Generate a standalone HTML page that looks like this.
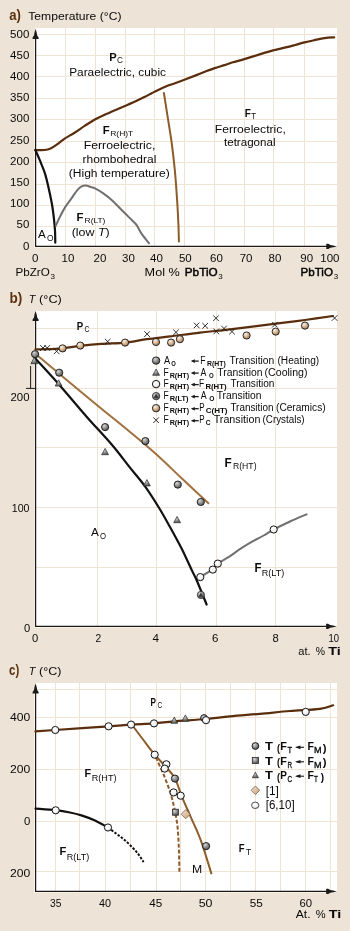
<!DOCTYPE html>
<html><head><meta charset="utf-8"><title>PZT phase diagrams</title><style>
html,body{margin:0;padding:0;background:#ede3d6;width:350px;height:931px;overflow:hidden}
svg{display:block}
text{font-family:"Liberation Sans", sans-serif}
</style></head><body>
<svg width="350" height="931" viewBox="0 0 350 931">
<defs>
<radialGradient id="gg" cx="0.35" cy="0.3" r="0.75"><stop offset="0" stop-color="#d8d8d8"/><stop offset="0.55" stop-color="#8a8a8a"/><stop offset="1" stop-color="#505050"/></radialGradient>
<radialGradient id="tg" cx="0.35" cy="0.3" r="0.75"><stop offset="0" stop-color="#fbf3e8"/><stop offset="0.55" stop-color="#d2b08c"/><stop offset="1" stop-color="#96714c"/></radialGradient>
<radialGradient id="wg" cx="0.35" cy="0.3" r="0.75"><stop offset="0" stop-color="#ffffff"/><stop offset="0.7" stop-color="#f0f0f0"/><stop offset="1" stop-color="#c8c8c8"/></radialGradient>
<linearGradient id="dg" x1="0" y1="0" x2="1" y2="1"><stop offset="0" stop-color="#f6e8d6"/><stop offset="1" stop-color="#c49a70"/></linearGradient>
</defs>
<rect x="35.5" y="28" width="301.5" height="218" fill="#ffffff"/>
<line x1="36" y1="34.5" x2="337" y2="34.5" stroke="#f0e3d3" stroke-width="1"/>
<line x1="36" y1="55.5" x2="337" y2="55.5" stroke="#f0e3d3" stroke-width="1"/>
<line x1="36" y1="76.5" x2="337" y2="76.5" stroke="#f0e3d3" stroke-width="1"/>
<line x1="36" y1="98.5" x2="337" y2="98.5" stroke="#f0e3d3" stroke-width="1"/>
<line x1="36" y1="119.5" x2="337" y2="119.5" stroke="#f0e3d3" stroke-width="1"/>
<line x1="36" y1="141.5" x2="337" y2="141.5" stroke="#f0e3d3" stroke-width="1"/>
<line x1="36" y1="162.5" x2="337" y2="162.5" stroke="#f0e3d3" stroke-width="1"/>
<line x1="36" y1="184.5" x2="337" y2="184.5" stroke="#f0e3d3" stroke-width="1"/>
<line x1="36" y1="205.5" x2="337" y2="205.5" stroke="#f0e3d3" stroke-width="1"/>
<line x1="36" y1="226.5" x2="337" y2="226.5" stroke="#f0e3d3" stroke-width="1"/>
<line x1="65.5" y1="28" x2="65.5" y2="246" stroke="#f0e3d3" stroke-width="1"/>
<line x1="95.5" y1="28" x2="95.5" y2="246" stroke="#f0e3d3" stroke-width="1"/>
<line x1="125.5" y1="28" x2="125.5" y2="246" stroke="#f0e3d3" stroke-width="1"/>
<line x1="154.5" y1="28" x2="154.5" y2="246" stroke="#f0e3d3" stroke-width="1"/>
<line x1="184.5" y1="28" x2="184.5" y2="246" stroke="#f0e3d3" stroke-width="1"/>
<line x1="214.5" y1="28" x2="214.5" y2="246" stroke="#f0e3d3" stroke-width="1"/>
<line x1="244.5" y1="28" x2="244.5" y2="246" stroke="#f0e3d3" stroke-width="1"/>
<line x1="273.5" y1="28" x2="273.5" y2="246" stroke="#f0e3d3" stroke-width="1"/>
<line x1="304.5" y1="28" x2="304.5" y2="246" stroke="#f0e3d3" stroke-width="1"/>
<line x1="34.5" y1="39" x2="34.5" y2="247" stroke="#fbf0e4" stroke-width="1"/>
<line x1="35.6" y1="37" x2="35.6" y2="247" stroke="#1a1a1a" stroke-width="1.25"/>
<path d="M35.6 29.0 L36.7 32.5 L37.2 35.5 L38.6 37.5 L38.6 39.0 L32.6 39.0 L32.6 37.5 L34.0 35.5 L34.5 32.5 Z" fill="#1a1a1a"/>
<line x1="34" y1="247.5" x2="326.8" y2="247.5" stroke="#fbf0e4" stroke-width="1"/>
<line x1="35" y1="246.4" x2="328.8" y2="246.4" stroke="#1a1a1a" stroke-width="1.25"/>
<path d="M336.8 246.4 L333.3 247.3 L330.3 247.8 L328.3 249.0 L326.3 249.0 L326.3 243.8 L328.3 243.8 L330.3 245.0 L333.3 245.5 Z" fill="#1a1a1a"/>
<text x="29.3" y="37.5" font-size="11.5" text-anchor="end" font-weight="normal" fill="#0a0a0a"  >500</text>
<text x="29.3" y="58.72" font-size="11.5" text-anchor="end" font-weight="normal" fill="#0a0a0a"  >450</text>
<text x="29.3" y="79.94" font-size="11.5" text-anchor="end" font-weight="normal" fill="#0a0a0a"  >400</text>
<text x="29.3" y="101.16" font-size="11.5" text-anchor="end" font-weight="normal" fill="#0a0a0a"  >350</text>
<text x="29.3" y="122.38" font-size="11.5" text-anchor="end" font-weight="normal" fill="#0a0a0a"  >300</text>
<text x="29.3" y="143.6" font-size="11.5" text-anchor="end" font-weight="normal" fill="#0a0a0a"  >250</text>
<text x="29.3" y="164.82" font-size="11.5" text-anchor="end" font-weight="normal" fill="#0a0a0a"  >200</text>
<text x="29.3" y="186.04" font-size="11.5" text-anchor="end" font-weight="normal" fill="#0a0a0a"  >150</text>
<text x="29.3" y="207.26" font-size="11.5" text-anchor="end" font-weight="normal" fill="#0a0a0a"  >100</text>
<text x="29.3" y="228.48" font-size="11.5" text-anchor="end" font-weight="normal" fill="#0a0a0a"  >50</text>
<text x="29.3" y="249.7" font-size="11.5" text-anchor="end" font-weight="normal" fill="#0a0a0a"  >0</text>
<text x="35.1" y="261.7" font-size="11.5" text-anchor="middle" font-weight="normal" fill="#0a0a0a"  >0</text>
<text x="67.9" y="261.7" font-size="11.5" text-anchor="middle" font-weight="normal" fill="#0a0a0a"  >10</text>
<text x="100" y="261.7" font-size="11.5" text-anchor="middle" font-weight="normal" fill="#0a0a0a"  >20</text>
<text x="128.4" y="261.7" font-size="11.5" text-anchor="middle" font-weight="normal" fill="#0a0a0a"  >30</text>
<text x="156.4" y="261.7" font-size="11.5" text-anchor="middle" font-weight="normal" fill="#0a0a0a"  >40</text>
<text x="185.3" y="261.7" font-size="11.5" text-anchor="middle" font-weight="normal" fill="#0a0a0a"  >50</text>
<text x="216.4" y="261.7" font-size="11.5" text-anchor="middle" font-weight="normal" fill="#0a0a0a"  >60</text>
<text x="246.1" y="261.7" font-size="11.5" text-anchor="middle" font-weight="normal" fill="#0a0a0a"  >70</text>
<text x="275" y="261.7" font-size="11.5" text-anchor="middle" font-weight="normal" fill="#0a0a0a"  >80</text>
<text x="306.7" y="261.7" font-size="11.5" text-anchor="middle" font-weight="normal" fill="#0a0a0a"  >90</text>
<text x="329.9" y="261.7" font-size="11.5" text-anchor="middle" font-weight="normal" fill="#0a0a0a"  >100</text>
<text x="15.5" y="275.6" font-size="11.5" text-anchor="start" font-weight="normal" fill="#0a0a0a"   textLength="34.3" lengthAdjust="spacingAndGlyphs">PbZrO</text>
<text x="50.5" y="278.9" font-size="8" text-anchor="start" font-weight="normal" fill="#0a0a0a"  >3</text>
<text x="144.6" y="275.6" font-size="11.5" text-anchor="start" font-weight="normal" fill="#0a0a0a"   textLength="35.18" lengthAdjust="spacingAndGlyphs">Mol %</text>
<text x="184.8" y="275.6" font-size="11.5" text-anchor="start" font-weight="normal" fill="#0a0a0a"  stroke="#000" stroke-width="0.45" textLength="32.82" lengthAdjust="spacingAndGlyphs">PbTiO</text>
<text x="218.3" y="278.9" font-size="8" text-anchor="start" font-weight="normal" fill="#0a0a0a"  >3</text>
<text x="300.5" y="275.6" font-size="11.5" text-anchor="start" font-weight="normal" fill="#0a0a0a"  stroke="#000" stroke-width="0.45" textLength="32.42" lengthAdjust="spacingAndGlyphs">PbTiO</text>
<text x="333.8" y="278.9" font-size="8" text-anchor="start" font-weight="normal" fill="#0a0a0a"  >3</text>
<text x="9.3" y="20.3" font-size="14.5" text-anchor="start" font-weight="bold" fill="#5c3210"   textLength="11.69" lengthAdjust="spacingAndGlyphs">a)</text>
<text x="28.2" y="20" font-size="11.8" text-anchor="start" font-weight="normal" fill="#0a0a0a"   textLength="93.3" lengthAdjust="spacingAndGlyphs">Temperature (°C)</text>
<path d="M35.20 150.00 C36.77 150.00 42.03 150.27 44.60 150.00 C47.17 149.73 48.60 149.28 50.60 148.40 C52.60 147.52 54.32 146.28 56.60 144.70 C58.88 143.12 61.30 140.90 64.30 138.90 C67.30 136.90 71.15 134.90 74.60 132.70 C78.05 130.50 81.55 127.93 85.00 125.70 C88.45 123.47 91.87 121.20 95.30 119.30 C98.73 117.40 101.25 116.28 105.60 114.30 C109.95 112.32 116.85 109.35 121.40 107.40 C125.95 105.45 129.08 104.32 132.90 102.60 C136.72 100.88 141.10 98.70 144.30 97.10 C147.50 95.50 149.60 94.28 152.10 93.00 C154.60 91.72 156.92 90.52 159.30 89.40 C161.68 88.28 164.02 87.25 166.40 86.30 C168.78 85.35 170.50 84.83 173.60 83.70 C176.70 82.57 181.20 80.93 185.00 79.50 C188.80 78.07 192.58 76.58 196.40 75.10 C200.22 73.62 204.85 71.77 207.90 70.60 C210.95 69.43 211.95 69.02 214.70 68.10 C217.45 67.18 221.37 66.07 224.40 65.10 C227.43 64.13 229.58 63.30 232.90 62.30 C236.22 61.30 239.07 60.67 244.30 59.10 C249.53 57.53 259.42 54.37 264.30 52.90 C269.18 51.43 270.03 51.22 273.60 50.30 C277.17 49.38 282.13 48.28 285.70 47.40 C289.27 46.52 291.85 45.83 295.00 45.00 C298.15 44.17 301.38 43.20 304.60 42.40 C307.82 41.60 310.97 40.92 314.30 40.20 C317.63 39.48 321.28 38.58 324.60 38.10 C327.92 37.62 332.60 37.43 334.20 37.30" fill="none" stroke="#5a2e0c" stroke-width="2.2" stroke-linejoin="round" stroke-linecap="round" />
<path d="M163.90 93.00 C164.58 97.37 166.73 111.12 168.00 119.20 C169.27 127.28 170.35 132.90 171.50 141.50 C172.65 150.10 173.97 161.05 174.90 170.80 C175.83 180.55 176.52 191.13 177.10 200.00 C177.68 208.87 178.10 217.08 178.40 224.00 C178.70 230.92 178.82 238.58 178.90 241.50" fill="none" stroke="#8e5c2a" stroke-width="2" stroke-linejoin="round" stroke-linecap="round" />
<path d="M35.40 150.00 C36.17 151.78 38.40 156.77 40.00 160.70 C41.60 164.63 43.57 169.07 45.00 173.60 C46.43 178.13 47.42 182.67 48.60 187.90 C49.78 193.13 51.20 199.77 52.10 205.00 C53.00 210.23 53.52 215.02 54.00 219.30 C54.48 223.58 54.78 226.82 55.00 230.70 C55.22 234.58 55.25 240.62 55.30 242.60" fill="none" stroke="#111" stroke-width="2.2" stroke-linejoin="round" stroke-linecap="round" />
<path d="M55.90 225.50 C56.53 224.13 58.20 220.28 59.70 217.30 C61.20 214.32 62.97 210.72 64.90 207.60 C66.83 204.48 69.17 201.60 71.30 198.60 C73.43 195.60 75.98 191.63 77.70 189.60 C79.42 187.57 80.20 187.07 81.60 186.40 C83.00 185.73 84.60 185.50 86.10 185.60 C87.60 185.70 89.12 186.53 90.60 187.00 C92.08 187.47 92.83 187.30 95.00 188.40 C97.17 189.50 100.73 191.60 103.60 193.60 C106.47 195.60 109.35 197.83 112.20 200.40 C115.05 202.97 117.85 206.13 120.70 209.00 C123.55 211.87 126.72 215.02 129.30 217.60 C131.88 220.18 134.63 222.65 136.20 224.50 C137.77 226.35 137.70 227.00 138.70 228.70 C139.70 230.40 140.48 232.27 142.20 234.70 C143.92 237.13 147.87 241.87 149.00 243.30" fill="none" stroke="#707070" stroke-width="2" stroke-linejoin="round" stroke-linecap="round" />
<text x="109.2" y="60.7" font-size="11.5" text-anchor="start" font-weight="bold" fill="#0a0a0a"   textLength="7.42" lengthAdjust="spacingAndGlyphs">P</text>
<text x="117.1" y="62.7" font-size="8.8" text-anchor="start" font-weight="normal" fill="#0a0a0a"   textLength="5.92" lengthAdjust="spacingAndGlyphs">C</text>
<text x="69.2" y="75.5" font-size="11.7" text-anchor="start" font-weight="normal" fill="#0a0a0a"   textLength="96.8" lengthAdjust="spacingAndGlyphs">Paraelectric, cubic</text>
<text x="102.7" y="134" font-size="11.5" text-anchor="start" font-weight="bold" fill="#0a0a0a"   textLength="6.91" lengthAdjust="spacingAndGlyphs">F</text>
<text x="110.2" y="135.7" font-size="7.8" text-anchor="start" font-weight="normal" fill="#0a0a0a"   textLength="23.11" lengthAdjust="spacingAndGlyphs">R(H)T</text>
<text x="83.7" y="148.9" font-size="11.7" text-anchor="start" font-weight="normal" fill="#0a0a0a"   textLength="71.7" lengthAdjust="spacingAndGlyphs">Ferroelectric,</text>
<text x="82.5" y="162.6" font-size="11.7" text-anchor="start" font-weight="normal" fill="#0a0a0a"   textLength="73.81" lengthAdjust="spacingAndGlyphs">rhombohedral</text>
<text x="68.8" y="177.4" font-size="11.7" text-anchor="start" font-weight="normal" fill="#0a0a0a"   textLength="100.93" lengthAdjust="spacingAndGlyphs">(High temperature)</text>
<text x="244.8" y="116.6" font-size="11.5" text-anchor="start" font-weight="bold" fill="#0a0a0a"   textLength="6.11" lengthAdjust="spacingAndGlyphs">F</text>
<text x="251.2" y="119.3" font-size="8.8" text-anchor="start" font-weight="normal" fill="#0a0a0a"   textLength="4.81" lengthAdjust="spacingAndGlyphs">T</text>
<text x="214.8" y="132.7" font-size="11.7" text-anchor="start" font-weight="normal" fill="#0a0a0a"   textLength="71.0" lengthAdjust="spacingAndGlyphs">Ferroelectric,</text>
<text x="224.0" y="146.4" font-size="11.7" text-anchor="start" font-weight="normal" fill="#0a0a0a"   textLength="51.48" lengthAdjust="spacingAndGlyphs">tetragonal</text>
<text x="76.5" y="220.6" font-size="11.5" text-anchor="start" font-weight="bold" fill="#0a0a0a"   textLength="6.91" lengthAdjust="spacingAndGlyphs">F</text>
<text x="84.6" y="223.2" font-size="7.8" text-anchor="start" font-weight="normal" fill="#0a0a0a"   textLength="20.81" lengthAdjust="spacingAndGlyphs">R(LT)</text>
<text x="71.7" y="236.3" font-size="11.7" text-anchor="start" font-weight="normal" fill="#0a0a0a"   textLength="37.93" lengthAdjust="spacingAndGlyphs">(low <tspan font-style="italic">T</tspan>)</text>
<text x="37.9" y="237.9" font-size="11.5" text-anchor="start" font-weight="normal" fill="#0a0a0a"   textLength="7.77" lengthAdjust="spacingAndGlyphs">A</text>
<text x="46.9" y="240.7" font-size="8.5" text-anchor="start" font-weight="normal" fill="#0a0a0a"   textLength="6.48" lengthAdjust="spacingAndGlyphs">O</text>
<rect x="35.5" y="311" width="301.5" height="315" fill="#ffffff"/>
<line x1="36" y1="328.5" x2="337" y2="328.5" stroke="#f0e3d3" stroke-width="1"/>
<line x1="36" y1="388.5" x2="337" y2="388.5" stroke="#f0e3d3" stroke-width="1"/>
<line x1="36" y1="447.5" x2="337" y2="447.5" stroke="#f0e3d3" stroke-width="1"/>
<line x1="36" y1="507.5" x2="337" y2="507.5" stroke="#f0e3d3" stroke-width="1"/>
<line x1="36" y1="567.5" x2="337" y2="567.5" stroke="#f0e3d3" stroke-width="1"/>
<line x1="97.5" y1="311" x2="97.5" y2="626" stroke="#f0e3d3" stroke-width="1"/>
<line x1="156.5" y1="311" x2="156.5" y2="626" stroke="#f0e3d3" stroke-width="1"/>
<line x1="216.5" y1="311" x2="216.5" y2="626" stroke="#f0e3d3" stroke-width="1"/>
<line x1="275.5" y1="311" x2="275.5" y2="626" stroke="#f0e3d3" stroke-width="1"/>
<line x1="34.5" y1="321" x2="34.5" y2="627" stroke="#fbf0e4" stroke-width="1"/>
<line x1="35.6" y1="319" x2="35.6" y2="627" stroke="#1a1a1a" stroke-width="1.25"/>
<path d="M35.6 311.0 L36.7 314.5 L37.2 317.5 L38.6 319.5 L38.6 321.0 L32.6 321.0 L32.6 319.5 L34.0 317.5 L34.5 314.5 Z" fill="#1a1a1a"/>
<line x1="34" y1="627.5" x2="326.6" y2="627.5" stroke="#fbf0e4" stroke-width="1"/>
<line x1="35" y1="626.4" x2="328.6" y2="626.4" stroke="#1a1a1a" stroke-width="1.25"/>
<path d="M336.6 626.4 L333.1 627.3 L330.1 627.8 L328.1 629.0 L326.1 629.0 L326.1 623.8 L328.1 623.8 L330.1 625.0 L333.1 625.5 Z" fill="#1a1a1a"/>
<path d="M30.6 366 L30.6 388.4 M26 388.4 L35 388.4" stroke="#1a1a1a" stroke-width="1" fill="none"/>
<text x="10.5" y="400.8" font-size="11.5" text-anchor="start" font-weight="normal" fill="#0a0a0a"   textLength="18.98" lengthAdjust="spacingAndGlyphs">200</text>
<text x="11.8" y="511.5" font-size="11.5" text-anchor="start" font-weight="normal" fill="#0a0a0a"   textLength="17.68" lengthAdjust="spacingAndGlyphs">100</text>
<text x="24.0" y="631.5" font-size="11.5" text-anchor="start" font-weight="normal" fill="#0a0a0a"   textLength="6.21" lengthAdjust="spacingAndGlyphs">0</text>
<text x="32.0" y="641.8" font-size="11.5" text-anchor="start" font-weight="normal" fill="#0a0a0a"   textLength="6.21" lengthAdjust="spacingAndGlyphs">0</text>
<text x="95.4" y="641.8" font-size="11.5" text-anchor="start" font-weight="normal" fill="#0a0a0a"   textLength="5.71" lengthAdjust="spacingAndGlyphs">2</text>
<text x="152.5" y="641.8" font-size="11.5" text-anchor="start" font-weight="normal" fill="#0a0a0a"   textLength="6.51" lengthAdjust="spacingAndGlyphs">4</text>
<text x="211.9" y="641.8" font-size="11.5" text-anchor="start" font-weight="normal" fill="#0a0a0a"   textLength="6.41" lengthAdjust="spacingAndGlyphs">6</text>
<text x="272.4" y="641.8" font-size="11.5" text-anchor="start" font-weight="normal" fill="#0a0a0a"   textLength="6.21" lengthAdjust="spacingAndGlyphs">8</text>
<text x="328.5" y="641.8" font-size="11.5" text-anchor="start" font-weight="normal" fill="#0a0a0a"   textLength="10.52" lengthAdjust="spacingAndGlyphs">10</text>
<text x="298.3" y="654.8" font-size="11.5" text-anchor="start" font-weight="normal" fill="#0a0a0a"   textLength="12.32" lengthAdjust="spacingAndGlyphs">at.</text>
<text x="315.8" y="654.8" font-size="11.5" text-anchor="start" font-weight="normal" fill="#0a0a0a"   textLength="9.29" lengthAdjust="spacingAndGlyphs">%</text>
<text x="328.3" y="654.8" font-size="11.8" text-anchor="start" font-weight="bold" fill="#0a0a0a"   textLength="12.51" lengthAdjust="spacingAndGlyphs">Ti</text>
<text x="9.6" y="303.1" font-size="14.5" text-anchor="start" font-weight="bold" fill="#5c3210"   textLength="12.79" lengthAdjust="spacingAndGlyphs">b)</text>
<text x="28.8" y="303.1" font-size="11.3" text-anchor="start" font-weight="normal" fill="#0a0a0a" font-style="italic"  textLength="6.66" lengthAdjust="spacingAndGlyphs">T</text>
<text x="39.1" y="303.1" font-size="11.3" text-anchor="start" font-weight="normal" fill="#0a0a0a"   textLength="22.68" lengthAdjust="spacingAndGlyphs">(°C)</text>
<path d="M35.50 349.40 C39.35 349.27 51.18 349.18 58.60 348.60 C66.02 348.02 72.87 346.68 80.00 345.90 C87.13 345.12 93.78 344.45 101.40 343.90 C109.02 343.35 118.10 343.38 125.70 342.60 C133.30 341.82 139.62 340.23 147.00 339.20 C154.38 338.17 161.17 337.50 170.00 336.40 C178.83 335.30 190.00 333.77 200.00 332.60 C210.00 331.43 216.67 330.97 230.00 329.40 C243.33 327.83 267.50 324.77 280.00 323.20 C292.50 321.63 296.17 321.20 305.00 320.00 C313.83 318.80 328.33 316.67 333.00 316.00" fill="none" stroke="#5a2e0c" stroke-width="2.2" stroke-linejoin="round" stroke-linecap="round" />
<path d="M36.00 354.20 C45.23 361.92 75.73 387.53 91.40 400.50 C107.07 413.47 119.28 423.12 130.00 432.00 C140.72 440.88 147.13 446.13 155.70 453.80 C164.27 461.47 172.62 469.75 181.40 478.00 C190.18 486.25 203.90 499.08 208.40 503.30" fill="none" stroke="#a0703e" stroke-width="2" stroke-linejoin="round" stroke-linecap="round" />
<path d="M35.80 359.00 C39.95 363.57 52.27 376.83 60.70 386.40 C69.13 395.97 77.83 406.63 86.40 416.40 C94.97 426.17 104.83 436.47 112.10 445.00 C119.37 453.53 124.45 460.63 130.00 467.60 C135.55 474.57 140.47 479.95 145.40 486.80 C150.33 493.65 155.50 502.00 159.60 508.70 C163.70 515.40 167.08 521.78 170.00 527.00 C172.92 532.22 175.00 536.08 177.10 540.00 C179.20 543.92 180.12 545.40 182.60 550.50 C185.08 555.60 189.57 565.43 192.00 570.60 C194.43 575.77 194.77 575.85 197.20 581.50 C199.63 587.15 205.03 600.67 206.60 604.50" fill="none" stroke="#111" stroke-width="2.2" stroke-linejoin="round" stroke-linecap="round" />
<path d="M200.00 577.10 C202.13 575.77 209.82 571.38 212.80 569.10 C215.78 566.82 215.15 565.48 217.90 563.40 C220.65 561.32 225.50 559.07 229.30 556.60 C233.10 554.13 236.90 551.08 240.70 548.60 C244.50 546.12 248.28 543.88 252.10 541.70 C255.92 539.52 260.00 537.53 263.60 535.50 C267.20 533.47 269.30 531.83 273.70 529.50 C278.10 527.17 284.52 524.03 290.00 521.50 C295.48 518.97 303.83 515.50 306.60 514.30" fill="none" stroke="#707070" stroke-width="2" stroke-linejoin="round" stroke-linecap="round" />
<path d="M40.2 345.2 L45.8 350.8 M40.2 350.8 L45.8 345.2" stroke="#1a1a1a" stroke-width="0.9"/>
<path d="M44.400000000000006 345.2 L50.0 350.8 M44.400000000000006 350.8 L50.0 345.2" stroke="#1a1a1a" stroke-width="0.9"/>
<path d="M53.800000000000004 348.5 L59.4 354.1 M53.800000000000004 354.1 L59.4 348.5" stroke="#1a1a1a" stroke-width="0.9"/>
<path d="M104.9 338.8 L110.5 344.40000000000003 M104.9 344.40000000000003 L110.5 338.8" stroke="#1a1a1a" stroke-width="0.9"/>
<path d="M144.29999999999998 331.3 L149.9 336.90000000000003 M144.29999999999998 336.90000000000003 L149.9 331.3" stroke="#1a1a1a" stroke-width="0.9"/>
<path d="M173.2 329.5 L178.8 335.1 M173.2 335.1 L178.8 329.5" stroke="#1a1a1a" stroke-width="0.9"/>
<path d="M193.79999999999998 322.59999999999997 L199.4 328.2 M193.79999999999998 328.2 L199.4 322.59999999999997" stroke="#1a1a1a" stroke-width="0.9"/>
<path d="M202.39999999999998 323.0 L208.0 328.6 M202.39999999999998 328.6 L208.0 323.0" stroke="#1a1a1a" stroke-width="0.9"/>
<path d="M213.2 315.4 L218.8 321.0 M213.2 321.0 L218.8 315.4" stroke="#1a1a1a" stroke-width="0.9"/>
<path d="M213.5 328.59999999999997 L219.10000000000002 334.2 M213.5 334.2 L219.10000000000002 328.59999999999997" stroke="#1a1a1a" stroke-width="0.9"/>
<path d="M221.2 325.7 L226.8 331.3 M221.2 331.3 L226.8 325.7" stroke="#1a1a1a" stroke-width="0.9"/>
<path d="M229.2 328.8 L234.8 334.40000000000003 M229.2 334.40000000000003 L234.8 328.8" stroke="#1a1a1a" stroke-width="0.9"/>
<path d="M272.09999999999997 321.9 L277.7 327.5 M272.09999999999997 327.5 L277.7 321.9" stroke="#1a1a1a" stroke-width="0.9"/>
<path d="M331.8 315.2 L337.40000000000003 320.8 M331.8 320.8 L337.40000000000003 315.2" stroke="#1a1a1a" stroke-width="0.9"/>
<circle cx="62.6" cy="348.4" r="3.6" fill="url(#tg)" stroke="#1a1a1a" stroke-width="0.9"/>
<circle cx="80.3" cy="345.6" r="3.6" fill="url(#tg)" stroke="#1a1a1a" stroke-width="0.9"/>
<circle cx="125.1" cy="342.6" r="3.6" fill="url(#tg)" stroke="#1a1a1a" stroke-width="0.9"/>
<circle cx="156" cy="342" r="3.6" fill="url(#tg)" stroke="#1a1a1a" stroke-width="0.9"/>
<circle cx="171.1" cy="342.6" r="3.6" fill="url(#tg)" stroke="#1a1a1a" stroke-width="0.9"/>
<circle cx="179.9" cy="339.2" r="3.6" fill="url(#tg)" stroke="#1a1a1a" stroke-width="0.9"/>
<circle cx="246.6" cy="335.5" r="3.6" fill="url(#tg)" stroke="#1a1a1a" stroke-width="0.9"/>
<circle cx="275.7" cy="331.6" r="3.6" fill="url(#tg)" stroke="#1a1a1a" stroke-width="0.9"/>
<circle cx="305" cy="325.6" r="3.6" fill="url(#tg)" stroke="#1a1a1a" stroke-width="0.9"/>
<path d="M34.3 357.4 L37.72 363.7 L30.879999999999995 363.7 Z" fill="url(#gg)" stroke="#2a2a2a" stroke-width="0.7"/>
<circle cx="35.1" cy="354.2" r="3.6" fill="url(#gg)" stroke="#151515" stroke-width="0.9"/>
<circle cx="59.2" cy="372.7" r="3.6" fill="url(#gg)" stroke="#151515" stroke-width="0.9"/>
<path d="M58.6 379.79999999999995 L62.02 386.09999999999997 L55.18 386.09999999999997 Z" fill="url(#gg)" stroke="#2a2a2a" stroke-width="0.7"/>
<circle cx="105.1" cy="427.1" r="3.6" fill="url(#gg)" stroke="#151515" stroke-width="0.9"/>
<circle cx="145.4" cy="441.1" r="3.6" fill="url(#gg)" stroke="#151515" stroke-width="0.9"/>
<path d="M105.1 448.4 L108.52 454.7 L101.67999999999999 454.7 Z" fill="url(#gg)" stroke="#2a2a2a" stroke-width="0.7"/>
<path d="M146.9 479.59999999999997 L150.32 485.9 L143.48000000000002 485.9 Z" fill="url(#gg)" stroke="#2a2a2a" stroke-width="0.7"/>
<circle cx="177.8" cy="484.6" r="3.6" fill="url(#gg)" stroke="#151515" stroke-width="0.9"/>
<circle cx="200.8" cy="502" r="3.6" fill="url(#gg)" stroke="#151515" stroke-width="0.9"/>
<path d="M177.1 516.4 L180.51999999999998 522.7 L173.68 522.7 Z" fill="url(#gg)" stroke="#2a2a2a" stroke-width="0.7"/>
<circle cx="200.9" cy="594.9" r="3.6" fill="url(#gg)" stroke="#2a2a2a" stroke-width="0.8"/>
<path d="M200.9 592.38 L203.42000000000002 596.664 L198.38 596.664 Z" fill="#3a3a3a"/>
<circle cx="200.3" cy="577.1" r="3.6" fill="url(#wg)" stroke="#151515" stroke-width="1"/>
<circle cx="212.8" cy="569.6" r="3.6" fill="url(#wg)" stroke="#151515" stroke-width="1"/>
<circle cx="217.8" cy="563.6" r="3.6" fill="url(#wg)" stroke="#151515" stroke-width="1"/>
<circle cx="273.7" cy="529.5" r="3.6" fill="url(#wg)" stroke="#151515" stroke-width="1"/>
<text x="76.7" y="329.6" font-size="11.5" text-anchor="start" font-weight="bold" fill="#0a0a0a"   textLength="6.42" lengthAdjust="spacingAndGlyphs">P</text>
<text x="84.4" y="331.7" font-size="8.8" text-anchor="start" font-weight="normal" fill="#0a0a0a"   textLength="5.02" lengthAdjust="spacingAndGlyphs">C</text>
<text x="224.4" y="467" font-size="12.3" text-anchor="start" font-weight="bold" fill="#0a0a0a"   textLength="7.21" lengthAdjust="spacingAndGlyphs">F</text>
<text x="233.0" y="469.4" font-size="8.3" text-anchor="start" font-weight="normal" fill="#0a0a0a"   textLength="23.51" lengthAdjust="spacingAndGlyphs">R(HT)</text>
<text x="90.9" y="536.4" font-size="11.5" text-anchor="start" font-weight="normal" fill="#0a0a0a"   textLength="7.86" lengthAdjust="spacingAndGlyphs">A</text>
<text x="100.1" y="539.3" font-size="8.3" text-anchor="start" font-weight="normal" fill="#0a0a0a"   textLength="6.08" lengthAdjust="spacingAndGlyphs">O</text>
<text x="254.6" y="572.3" font-size="12.3" text-anchor="start" font-weight="bold" fill="#0a0a0a"   textLength="7.01" lengthAdjust="spacingAndGlyphs">F</text>
<text x="261.8" y="576" font-size="8.3" text-anchor="start" font-weight="normal" fill="#0a0a0a"   textLength="22.51" lengthAdjust="spacingAndGlyphs">R(LT)</text>
<circle cx="156.1" cy="360.6" r="3.7" fill="url(#gg)" stroke="#151515" stroke-width="0.9"/>
<text x="164.0" y="363.6" font-size="10" text-anchor="start" font-weight="normal" fill="#0a0a0a"   textLength="6.07" lengthAdjust="spacingAndGlyphs">A</text>
<text x="171.2" y="365.70000000000005" font-size="6.8" text-anchor="start" font-weight="bold" fill="#0a0a0a"   textLength="4.59" lengthAdjust="spacingAndGlyphs">O</text>
<path d="M192.5 361.1 L198.7 361.1" stroke="#1a1a1a" stroke-width="1.3"/><path d="M190.8 361.1 L194.8 359.3 L194.8 362.9 Z" fill="#1a1a1a"/>
<text x="200.2" y="363.6" font-size="10" text-anchor="start" font-weight="normal" fill="#0a0a0a"   textLength="5.21" lengthAdjust="spacingAndGlyphs">F</text>
<text x="207.1" y="365.70000000000005" font-size="6.8" text-anchor="start" font-weight="bold" fill="#0a0a0a"   textLength="18.61" lengthAdjust="spacingAndGlyphs">R(HT)</text>
<text x="229.4" y="363.6" font-size="10" text-anchor="start" font-weight="normal" fill="#0a0a0a"   textLength="44.89" lengthAdjust="spacingAndGlyphs">Transition</text>
<text x="277.5" y="363.6" font-size="10" text-anchor="start" font-weight="normal" fill="#0a0a0a"   textLength="41.68" lengthAdjust="spacingAndGlyphs">(Heating)</text>
<path d="M156.1 369.0 L159.51999999999998 375.3 L152.68 375.3 Z" fill="url(#gg)" stroke="#2a2a2a" stroke-width="0.7"/>
<text x="163.4" y="375.6" font-size="10" text-anchor="start" font-weight="normal" fill="#0a0a0a"   textLength="5.21" lengthAdjust="spacingAndGlyphs">F</text>
<text x="169.7" y="377.70000000000005" font-size="6.8" text-anchor="start" font-weight="bold" fill="#0a0a0a"   textLength="19.41" lengthAdjust="spacingAndGlyphs">R(HT)</text>
<path d="M192.5 373.1 L198.7 373.1" stroke="#1a1a1a" stroke-width="1.3"/><path d="M190.8 373.1 L194.8 371.3 L194.8 374.9 Z" fill="#1a1a1a"/>
<text x="200.6" y="375.6" font-size="10" text-anchor="start" font-weight="normal" fill="#0a0a0a"   textLength="5.87" lengthAdjust="spacingAndGlyphs">A</text>
<text x="208.9" y="377.70000000000005" font-size="6.8" text-anchor="start" font-weight="bold" fill="#0a0a0a"   textLength="4.69" lengthAdjust="spacingAndGlyphs">O</text>
<text x="217.3" y="375.6" font-size="10" text-anchor="start" font-weight="normal" fill="#0a0a0a"   textLength="45.19" lengthAdjust="spacingAndGlyphs">Transition</text>
<text x="264.6" y="375.6" font-size="10" text-anchor="start" font-weight="normal" fill="#0a0a0a"   textLength="42.92" lengthAdjust="spacingAndGlyphs">(Cooling)</text>
<circle cx="156.1" cy="384.1" r="3.7" fill="url(#wg)" stroke="#151515" stroke-width="1"/>
<text x="163.4" y="387.1" font-size="10" text-anchor="start" font-weight="normal" fill="#0a0a0a"   textLength="5.21" lengthAdjust="spacingAndGlyphs">F</text>
<text x="169.7" y="389.20000000000005" font-size="6.8" text-anchor="start" font-weight="bold" fill="#0a0a0a"   textLength="19.41" lengthAdjust="spacingAndGlyphs">R(HT)</text>
<path d="M192.5 384.6 L198.7 384.6" stroke="#1a1a1a" stroke-width="1.3"/><path d="M190.8 384.6 L194.8 382.8 L194.8 386.4 Z" fill="#1a1a1a"/>
<text x="198.9" y="387.1" font-size="10" text-anchor="start" font-weight="normal" fill="#0a0a0a"   textLength="5.21" lengthAdjust="spacingAndGlyphs">F</text>
<text x="205.4" y="389.20000000000005" font-size="6.8" text-anchor="start" font-weight="bold" fill="#0a0a0a"   textLength="21.11" lengthAdjust="spacingAndGlyphs">R(HT)</text>
<text x="230.4" y="387.1" font-size="10" text-anchor="start" font-weight="normal" fill="#0a0a0a"   textLength="44.09" lengthAdjust="spacingAndGlyphs">Transition</text>
<circle cx="156.1" cy="396.1" r="3.7" fill="url(#gg)" stroke="#2a2a2a" stroke-width="0.8"/>
<path d="M156.1 393.51000000000005 L158.69 397.913 L153.51 397.913 Z" fill="#3a3a3a"/>
<text x="163.4" y="399.1" font-size="10" text-anchor="start" font-weight="normal" fill="#0a0a0a"   textLength="5.21" lengthAdjust="spacingAndGlyphs">F</text>
<text x="169.7" y="401.20000000000005" font-size="6.8" text-anchor="start" font-weight="bold" fill="#0a0a0a"   textLength="18.81" lengthAdjust="spacingAndGlyphs">R(LT)</text>
<path d="M192.5 396.6 L198.7 396.6" stroke="#1a1a1a" stroke-width="1.3"/><path d="M190.8 396.6 L194.8 394.8 L194.8 398.4 Z" fill="#1a1a1a"/>
<text x="200.7" y="399.1" font-size="10" text-anchor="start" font-weight="normal" fill="#0a0a0a"   textLength="5.87" lengthAdjust="spacingAndGlyphs">A</text>
<text x="209.2" y="401.20000000000005" font-size="6.8" text-anchor="start" font-weight="bold" fill="#0a0a0a"   textLength="5.19" lengthAdjust="spacingAndGlyphs">O</text>
<text x="216.7" y="399.1" font-size="10" text-anchor="start" font-weight="normal" fill="#0a0a0a"   textLength="44.89" lengthAdjust="spacingAndGlyphs">Transition</text>
<circle cx="156.1" cy="408.2" r="3.7" fill="url(#tg)" stroke="#1a1a1a" stroke-width="0.9"/>
<text x="163.4" y="411.2" font-size="10" text-anchor="start" font-weight="normal" fill="#0a0a0a"   textLength="5.21" lengthAdjust="spacingAndGlyphs">F</text>
<text x="169.7" y="413.3" font-size="6.8" text-anchor="start" font-weight="bold" fill="#0a0a0a"   textLength="19.41" lengthAdjust="spacingAndGlyphs">R(HT)</text>
<path d="M192.5 408.7 L198.7 408.7" stroke="#1a1a1a" stroke-width="1.3"/><path d="M190.8 408.7 L194.8 406.9 L194.8 410.5 Z" fill="#1a1a1a"/>
<text x="199.3" y="411.2" font-size="10" text-anchor="start" font-weight="normal" fill="#0a0a0a"   textLength="5.32" lengthAdjust="spacingAndGlyphs">P</text>
<text x="205.7" y="413.3" font-size="6.8" text-anchor="start" font-weight="bold" fill="#0a0a0a"   textLength="21.81" lengthAdjust="spacingAndGlyphs">C(HT)</text>
<text x="230.4" y="411.2" font-size="10" text-anchor="start" font-weight="normal" fill="#0a0a0a"   textLength="43.19" lengthAdjust="spacingAndGlyphs">Transition</text>
<text x="276.0" y="411.2" font-size="10" text-anchor="start" font-weight="normal" fill="#0a0a0a"   textLength="49.59" lengthAdjust="spacingAndGlyphs">(Ceramics)</text>
<path d="M153.29999999999998 417.4 L158.9 423.0 M153.29999999999998 423.0 L158.9 417.4" stroke="#1a1a1a" stroke-width="0.9"/>
<text x="163.4" y="423.2" font-size="10" text-anchor="start" font-weight="normal" fill="#0a0a0a"   textLength="5.21" lengthAdjust="spacingAndGlyphs">F</text>
<text x="169.7" y="425.3" font-size="6.8" text-anchor="start" font-weight="bold" fill="#0a0a0a"   textLength="19.41" lengthAdjust="spacingAndGlyphs">R(HT)</text>
<path d="M192.5 420.7 L198.7 420.7" stroke="#1a1a1a" stroke-width="1.3"/><path d="M190.8 420.7 L194.8 418.9 L194.8 422.5 Z" fill="#1a1a1a"/>
<text x="199.3" y="423.2" font-size="10" text-anchor="start" font-weight="normal" fill="#0a0a0a"   textLength="5.32" lengthAdjust="spacingAndGlyphs">P</text>
<text x="205.7" y="425.3" font-size="6.8" text-anchor="start" font-weight="bold" fill="#0a0a0a"   textLength="4.81" lengthAdjust="spacingAndGlyphs">C</text>
<text x="213.7" y="423.2" font-size="10" text-anchor="start" font-weight="normal" fill="#0a0a0a"   textLength="46.69" lengthAdjust="spacingAndGlyphs">Transition</text>
<text x="262.5" y="423.2" font-size="10" text-anchor="start" font-weight="normal" fill="#0a0a0a"   textLength="42.08" lengthAdjust="spacingAndGlyphs">(Crystals)</text>
<rect x="35.5" y="683" width="301.5" height="208" fill="#ffffff"/>
<line x1="36" y1="689.5" x2="337" y2="689.5" stroke="#f0e3d3" stroke-width="1"/>
<line x1="36" y1="717.5" x2="337" y2="717.5" stroke="#f0e3d3" stroke-width="1"/>
<line x1="36" y1="769.5" x2="337" y2="769.5" stroke="#f0e3d3" stroke-width="1"/>
<line x1="36" y1="821.5" x2="337" y2="821.5" stroke="#f0e3d3" stroke-width="1"/>
<line x1="36" y1="871.5" x2="337" y2="871.5" stroke="#f0e3d3" stroke-width="1"/>
<line x1="55.5" y1="683" x2="55.5" y2="891" stroke="#f0e3d3" stroke-width="1"/>
<line x1="79.5" y1="683" x2="79.5" y2="891" stroke="#f0e3d3" stroke-width="1"/>
<line x1="105.5" y1="683" x2="105.5" y2="891" stroke="#f0e3d3" stroke-width="1"/>
<line x1="130.5" y1="683" x2="130.5" y2="891" stroke="#f0e3d3" stroke-width="1"/>
<line x1="156.5" y1="683" x2="156.5" y2="891" stroke="#f0e3d3" stroke-width="1"/>
<line x1="180.5" y1="683" x2="180.5" y2="891" stroke="#f0e3d3" stroke-width="1"/>
<line x1="205.5" y1="683" x2="205.5" y2="891" stroke="#f0e3d3" stroke-width="1"/>
<line x1="230.5" y1="683" x2="230.5" y2="891" stroke="#f0e3d3" stroke-width="1"/>
<line x1="255.5" y1="683" x2="255.5" y2="891" stroke="#f0e3d3" stroke-width="1"/>
<line x1="280.5" y1="683" x2="280.5" y2="891" stroke="#f0e3d3" stroke-width="1"/>
<line x1="305.5" y1="683" x2="305.5" y2="891" stroke="#f0e3d3" stroke-width="1"/>
<line x1="330.5" y1="683" x2="330.5" y2="891" stroke="#f0e3d3" stroke-width="1"/>
<line x1="34.5" y1="693.5" x2="34.5" y2="892" stroke="#fbf0e4" stroke-width="1"/>
<line x1="35.6" y1="691.5" x2="35.6" y2="892" stroke="#1a1a1a" stroke-width="1.25"/>
<path d="M35.6 683.5 L36.7 687.0 L37.2 690.0 L38.6 692.0 L38.6 693.5 L32.6 693.5 L32.6 692.0 L34.0 690.0 L34.5 687.0 Z" fill="#1a1a1a"/>
<line x1="34" y1="892.5" x2="326.7" y2="892.5" stroke="#fbf0e4" stroke-width="1"/>
<line x1="35" y1="891.4" x2="328.7" y2="891.4" stroke="#1a1a1a" stroke-width="1.25"/>
<path d="M336.7 891.4 L333.2 892.3 L330.2 892.8 L328.2 894.0 L326.2 894.0 L326.2 888.8 L328.2 888.8 L330.2 890.0 L333.2 890.5 Z" fill="#1a1a1a"/>
<text x="10.0" y="721" font-size="11.8" text-anchor="start" font-weight="normal" fill="#0a0a0a"   textLength="20.28" lengthAdjust="spacingAndGlyphs">400</text>
<text x="10.0" y="773" font-size="11.8" text-anchor="start" font-weight="normal" fill="#0a0a0a"   textLength="20.28" lengthAdjust="spacingAndGlyphs">200</text>
<text x="24.0" y="825.3" font-size="11.8" text-anchor="start" font-weight="normal" fill="#0a0a0a"   textLength="6.31" lengthAdjust="spacingAndGlyphs">0</text>
<text x="10.0" y="876.8" font-size="11.8" text-anchor="start" font-weight="normal" fill="#0a0a0a"   textLength="20.28" lengthAdjust="spacingAndGlyphs">200</text>
<text x="50.0" y="906.5" font-size="11.5" text-anchor="start" font-weight="normal" fill="#0a0a0a"   textLength="11.42" lengthAdjust="spacingAndGlyphs">35</text>
<text x="99.0" y="906.5" font-size="11.5" text-anchor="start" font-weight="normal" fill="#0a0a0a"   textLength="12.03" lengthAdjust="spacingAndGlyphs">40</text>
<text x="149.3" y="906.5" font-size="11.5" text-anchor="start" font-weight="normal" fill="#0a0a0a"   textLength="13.03" lengthAdjust="spacingAndGlyphs">45</text>
<text x="198.7" y="906.5" font-size="11.5" text-anchor="start" font-weight="normal" fill="#0a0a0a"   textLength="13.83" lengthAdjust="spacingAndGlyphs">50</text>
<text x="249.7" y="906.5" font-size="11.5" text-anchor="start" font-weight="normal" fill="#0a0a0a"   textLength="13.03" lengthAdjust="spacingAndGlyphs">55</text>
<text x="299.4" y="906.5" font-size="11.5" text-anchor="start" font-weight="normal" fill="#0a0a0a"   textLength="12.63" lengthAdjust="spacingAndGlyphs">60</text>
<text x="295.8" y="918.4" font-size="11.5" text-anchor="start" font-weight="normal" fill="#0a0a0a"   textLength="14.77" lengthAdjust="spacingAndGlyphs">At.</text>
<text x="315.7" y="918.4" font-size="11.5" text-anchor="start" font-weight="normal" fill="#0a0a0a"   textLength="9.89" lengthAdjust="spacingAndGlyphs">%</text>
<text x="328.8" y="918.4" font-size="11.8" text-anchor="start" font-weight="bold" fill="#0a0a0a"   textLength="12.51" lengthAdjust="spacingAndGlyphs">Ti</text>
<text x="9.1" y="675" font-size="14.5" text-anchor="start" font-weight="bold" fill="#5c3210"   textLength="10.19" lengthAdjust="spacingAndGlyphs">c)</text>
<text x="28.8" y="674.7" font-size="11.3" text-anchor="start" font-weight="normal" fill="#0a0a0a" font-style="italic"  textLength="6.66" lengthAdjust="spacingAndGlyphs">T</text>
<text x="39.1" y="674.7" font-size="11.3" text-anchor="start" font-weight="normal" fill="#0a0a0a"   textLength="22.38" lengthAdjust="spacingAndGlyphs">(°C)</text>
<path d="M35.50 731.40 C38.77 731.17 42.92 730.85 55.10 730.00 C67.28 729.15 95.93 727.20 108.60 726.30 C121.27 725.40 123.53 725.08 131.10 724.60 C138.67 724.12 146.85 723.93 154.00 723.40 C161.15 722.87 165.33 722.13 174.00 721.40 C182.67 720.67 196.67 719.85 206.00 719.00 C215.33 718.15 221.00 717.17 230.00 716.30 C239.00 715.43 250.00 714.68 260.00 713.80 C270.00 712.92 280.00 711.83 290.00 711.00 C300.00 710.17 312.82 709.75 320.00 708.80 C327.18 707.85 330.92 705.88 333.10 705.30" fill="none" stroke="#5a2e0c" stroke-width="2.2" stroke-linejoin="round" stroke-linecap="round" />
<path d="M131.40 724.00 C133.33 726.58 139.12 734.38 143.00 739.50 C146.88 744.62 150.87 750.12 154.70 754.70 C158.53 759.28 162.62 763.02 166.00 767.00 C169.38 770.98 172.28 773.50 175.00 778.60 C177.72 783.70 179.65 791.15 182.30 797.60 C184.95 804.05 187.75 810.02 190.90 817.30 C194.05 824.58 197.80 831.95 201.20 841.30 C204.60 850.65 209.62 868.05 211.30 873.40" fill="none" stroke="#8e5c2a" stroke-width="2" stroke-linejoin="round" stroke-linecap="round" />
<path d="M155.80 757.30 C157.33 760.75 162.30 771.15 165.00 778.00 C167.70 784.85 169.97 790.70 172.00 798.40 C174.03 806.10 176.05 815.60 177.20 824.20 C178.35 832.80 178.53 841.80 178.90 850.00 C179.27 858.20 179.32 869.50 179.40 873.40" fill="none" stroke="#8e5c2a" stroke-width="2" stroke-linejoin="round" stroke-linecap="butt" stroke-dasharray="4 2"/>
<path d="M35.50 808.60 C38.87 808.87 49.95 809.55 55.70 810.20 C61.45 810.85 65.72 811.63 70.00 812.50 C74.28 813.37 77.23 814.07 81.40 815.40 C85.57 816.73 90.57 818.48 95.00 820.50 C99.43 822.52 105.83 826.33 108.00 827.50" fill="none" stroke="#111" stroke-width="2.2" stroke-linejoin="round" stroke-linecap="round" />
<path d="M108.00 827.50 C109.33 828.50 113.52 831.65 116.00 833.50 C118.48 835.35 120.45 836.57 122.90 838.60 C125.35 840.63 128.20 843.20 130.70 845.70 C133.20 848.20 135.75 850.87 137.90 853.60 C140.05 856.33 142.65 860.68 143.60 862.10" fill="none" stroke="#111" stroke-width="2" stroke-linejoin="round" stroke-linecap="butt" stroke-dasharray="2.5 1.5"/>
<circle cx="55.3" cy="730" r="3.6" fill="url(#wg)" stroke="#151515" stroke-width="1"/>
<circle cx="108.6" cy="726.3" r="3.6" fill="url(#wg)" stroke="#151515" stroke-width="1"/>
<circle cx="131.1" cy="724.6" r="3.6" fill="url(#wg)" stroke="#151515" stroke-width="1"/>
<circle cx="154" cy="723.4" r="3.6" fill="url(#wg)" stroke="#151515" stroke-width="1"/>
<circle cx="305.7" cy="711.9" r="3.6" fill="url(#wg)" stroke="#151515" stroke-width="1"/>
<circle cx="154.7" cy="754.7" r="3.6" fill="url(#wg)" stroke="#151515" stroke-width="1"/>
<circle cx="166.4" cy="764.3" r="3.6" fill="url(#wg)" stroke="#151515" stroke-width="1"/>
<circle cx="164.7" cy="768.6" r="3.6" fill="url(#wg)" stroke="#151515" stroke-width="1"/>
<circle cx="173.6" cy="792.4" r="3.6" fill="url(#wg)" stroke="#151515" stroke-width="1"/>
<circle cx="180.7" cy="795.7" r="3.6" fill="url(#wg)" stroke="#151515" stroke-width="1"/>
<circle cx="55.7" cy="810.3" r="3.6" fill="url(#wg)" stroke="#151515" stroke-width="1"/>
<circle cx="108" cy="827.5" r="3.6" fill="url(#wg)" stroke="#151515" stroke-width="1"/>
<circle cx="204" cy="718" r="3.4" fill="url(#gg)" stroke="#151515" stroke-width="0.9"/>
<circle cx="206" cy="720.2" r="3.6" fill="url(#wg)" stroke="#151515" stroke-width="1"/>
<path d="M174.3 717.0 L177.72 723.3000000000001 L170.88000000000002 723.3000000000001 Z" fill="url(#gg)" stroke="#2a2a2a" stroke-width="0.7"/>
<path d="M185.4 714.9 L188.82 721.2 L181.98000000000002 721.2 Z" fill="url(#gg)" stroke="#2a2a2a" stroke-width="0.7"/>
<circle cx="175" cy="778.6" r="3.6" fill="url(#gg)" stroke="#151515" stroke-width="0.9"/>
<circle cx="206.1" cy="846.1" r="3.6" fill="url(#gg)" stroke="#151515" stroke-width="0.9"/>
<rect x="172.4" y="809.2" width="6" height="6" fill="url(#gg)" stroke="#2a2a2a" stroke-width="0.8"/>
<path d="M185.7 809.6 L190.29999999999998 814.2 L185.7 818.8000000000001 L181.1 814.2 Z" fill="url(#dg)" stroke="#6a5040" stroke-width="0.7"/>
<text x="150.6" y="705.5" font-size="11.5" text-anchor="start" font-weight="bold" fill="#0a0a0a"   textLength="5.42" lengthAdjust="spacingAndGlyphs">P</text>
<text x="157.5" y="708" font-size="8.8" text-anchor="start" font-weight="normal" fill="#0a0a0a"   textLength="4.71" lengthAdjust="spacingAndGlyphs">C</text>
<text x="84.5" y="776.7" font-size="11.8" text-anchor="start" font-weight="bold" fill="#0a0a0a"   textLength="6.61" lengthAdjust="spacingAndGlyphs">F</text>
<text x="91.7" y="780.8" font-size="8.3" text-anchor="start" font-weight="normal" fill="#0a0a0a"   textLength="24.81" lengthAdjust="spacingAndGlyphs">R(HT)</text>
<text x="59.6" y="855.1" font-size="11.8" text-anchor="start" font-weight="bold" fill="#0a0a0a"   textLength="6.81" lengthAdjust="spacingAndGlyphs">F</text>
<text x="66.8" y="860.3" font-size="8.3" text-anchor="start" font-weight="normal" fill="#0a0a0a"   textLength="22.51" lengthAdjust="spacingAndGlyphs">R(LT)</text>
<text x="238.8" y="851.8" font-size="11.8" text-anchor="start" font-weight="bold" fill="#0a0a0a"   textLength="5.81" lengthAdjust="spacingAndGlyphs">F</text>
<text x="245.9" y="854.7" font-size="8.8" text-anchor="start" font-weight="normal" fill="#0a0a0a"   textLength="5.11" lengthAdjust="spacingAndGlyphs">T</text>
<text x="191.9" y="872.6" font-size="11.5" text-anchor="start" font-weight="normal" fill="#0a0a0a"   textLength="10.18" lengthAdjust="spacingAndGlyphs">M</text>
<circle cx="255.4" cy="746.0" r="3.4" fill="url(#gg)" stroke="#151515" stroke-width="0.9"/>
<text x="264.9" y="750.4" font-size="11.5" text-anchor="start" font-weight="bold" fill="#0a0a0a"   textLength="7.91" lengthAdjust="spacingAndGlyphs">T</text>
<text x="276.9" y="751.9" font-size="11" text-anchor="start" font-weight="bold" fill="#0a0a0a"   textLength="2.98" lengthAdjust="spacingAndGlyphs">(</text>
<text x="280.3" y="750.4" font-size="11.5" text-anchor="start" font-weight="bold" fill="#0a0a0a"   textLength="6.61" lengthAdjust="spacingAndGlyphs">F</text>
<text x="287.4" y="753.3" font-size="8.2" text-anchor="start" font-weight="normal" fill="#0a0a0a"  stroke="#0a0a0a" stroke-width="0.3" textLength="4.61" lengthAdjust="spacingAndGlyphs">T</text>
<path d="M296.5 747.3 L304 747.3" stroke="#1a1a1a" stroke-width="1.1"/><path d="M295 747.3 L300.5 745.4 L300.5 749.2 Z" fill="#1a1a1a"/>
<text x="307.4" y="750.4" font-size="11.5" text-anchor="start" font-weight="bold" fill="#0a0a0a"   textLength="6.41" lengthAdjust="spacingAndGlyphs">F</text>
<text x="313.9" y="753.3" font-size="8.2" text-anchor="start" font-weight="normal" fill="#0a0a0a"  stroke="#0a0a0a" stroke-width="0.3" textLength="7.58" lengthAdjust="spacingAndGlyphs">M</text>
<text x="322.8" y="751.9" font-size="11" text-anchor="start" font-weight="bold" fill="#0a0a0a"   textLength="3.78" lengthAdjust="spacingAndGlyphs">)</text>
<rect x="252.3" y="757.35" width="6.2" height="6.2" fill="url(#gg)" stroke="#2a2a2a" stroke-width="0.8"/>
<text x="264.9" y="764.85" font-size="11.5" text-anchor="start" font-weight="bold" fill="#0a0a0a"   textLength="7.91" lengthAdjust="spacingAndGlyphs">T</text>
<text x="276.9" y="766.35" font-size="11" text-anchor="start" font-weight="bold" fill="#0a0a0a"   textLength="2.98" lengthAdjust="spacingAndGlyphs">(</text>
<text x="280.3" y="764.85" font-size="11.5" text-anchor="start" font-weight="bold" fill="#0a0a0a"   textLength="6.61" lengthAdjust="spacingAndGlyphs">F</text>
<text x="287.4" y="767.75" font-size="8.2" text-anchor="start" font-weight="normal" fill="#0a0a0a"  stroke="#0a0a0a" stroke-width="0.3" textLength="4.61" lengthAdjust="spacingAndGlyphs">R</text>
<path d="M296.5 761.8 L304 761.8" stroke="#1a1a1a" stroke-width="1.1"/><path d="M295 761.8 L300.5 759.9 L300.5 763.6 Z" fill="#1a1a1a"/>
<text x="307.4" y="764.85" font-size="11.5" text-anchor="start" font-weight="bold" fill="#0a0a0a"   textLength="6.41" lengthAdjust="spacingAndGlyphs">F</text>
<text x="313.9" y="767.75" font-size="8.2" text-anchor="start" font-weight="normal" fill="#0a0a0a"  stroke="#0a0a0a" stroke-width="0.3" textLength="7.58" lengthAdjust="spacingAndGlyphs">M</text>
<text x="322.8" y="766.35" font-size="11" text-anchor="start" font-weight="bold" fill="#0a0a0a"   textLength="3.78" lengthAdjust="spacingAndGlyphs">)</text>
<path d="M255.4 772.1999999999999 L258.44 777.8 L252.36 777.8 Z" fill="url(#gg)" stroke="#2a2a2a" stroke-width="0.7"/>
<text x="264.9" y="779.3" font-size="11.5" text-anchor="start" font-weight="bold" fill="#0a0a0a"   textLength="7.91" lengthAdjust="spacingAndGlyphs">T</text>
<text x="276.9" y="780.8" font-size="11" text-anchor="start" font-weight="bold" fill="#0a0a0a"   textLength="2.98" lengthAdjust="spacingAndGlyphs">(</text>
<text x="280.3" y="779.3" font-size="11.5" text-anchor="start" font-weight="bold" fill="#0a0a0a"   textLength="6.62" lengthAdjust="spacingAndGlyphs">P</text>
<text x="287.4" y="782.1999999999999" font-size="8.2" text-anchor="start" font-weight="normal" fill="#0a0a0a"  stroke="#0a0a0a" stroke-width="0.3" textLength="4.61" lengthAdjust="spacingAndGlyphs">C</text>
<path d="M296.5 776.2 L304 776.2" stroke="#1a1a1a" stroke-width="1.1"/><path d="M295 776.2 L300.5 774.3 L300.5 778.1 Z" fill="#1a1a1a"/>
<text x="307.4" y="779.3" font-size="11.5" text-anchor="start" font-weight="bold" fill="#0a0a0a"   textLength="6.41" lengthAdjust="spacingAndGlyphs">F</text>
<text x="313.9" y="782.1999999999999" font-size="8.2" text-anchor="start" font-weight="normal" fill="#0a0a0a"  stroke="#0a0a0a" stroke-width="0.3" textLength="3.91" lengthAdjust="spacingAndGlyphs">T</text>
<text x="320.8" y="780.8" font-size="11" text-anchor="start" font-weight="bold" fill="#0a0a0a"   textLength="3.38" lengthAdjust="spacingAndGlyphs">)</text>
<path d="M255.4 786.0 L259.7 790.3 L255.4 794.5999999999999 L251.1 790.3 Z" fill="url(#dg)" stroke="#6a5040" stroke-width="0.7"/>
<text x="265.7" y="794.7" font-size="12" text-anchor="start" font-weight="normal" fill="#0a0a0a"   textLength="13.22" lengthAdjust="spacingAndGlyphs">[1]</text>
<ellipse cx="255.2" cy="805.3" rx="3.7" ry="3.2" fill="url(#wg)" stroke="#2a2a2a" stroke-width="0.8"/>
<text x="265.7" y="809.2" font-size="12" text-anchor="start" font-weight="normal" fill="#0a0a0a"   textLength="28.92" lengthAdjust="spacingAndGlyphs">[6,10]</text>
</svg>
</body></html>
